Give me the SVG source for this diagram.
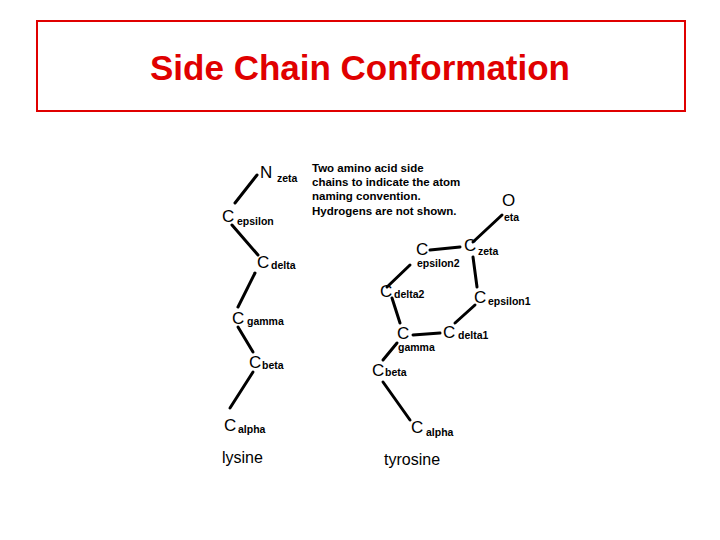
<svg xmlns="http://www.w3.org/2000/svg" width="720" height="540" viewBox="0 0 720 540">
<style>
.b{stroke:#000;stroke-width:3;stroke-linecap:round}
.a{font-family:"Liberation Sans",Arial,sans-serif;font-size:17px;fill:#000}
.s{font-family:"Liberation Sans",Arial,sans-serif;font-size:10.5px;font-weight:bold;fill:#000}
.n{font-family:"Liberation Sans",Arial,sans-serif;font-size:11.5px;font-weight:bold;fill:#000}
.l{font-family:"Liberation Sans",Arial,sans-serif;font-size:16px;fill:#000}
</style>
<rect width="720" height="540" fill="#fff"/>
<g id="title"><rect x="37" y="21" width="648" height="90" fill="none" stroke="#e00000" stroke-width="2"/>
<text x="360" y="80" text-anchor="middle" font-family="Liberation Sans,Arial,sans-serif" font-size="35" font-weight="bold" fill="#e00000">Side Chain Conformation</text></g>
<g id="connectors">
<line class="b" x1="257" y1="175" x2="235" y2="203"/>
<line class="b" x1="232" y1="225" x2="258" y2="255"/>
<line class="b" x1="255" y1="273" x2="238" y2="307"/>
<line class="b" x1="238" y1="327" x2="253" y2="352"/>
<line class="b" x1="253" y1="372" x2="230" y2="408"/>
<line class="b" x1="502" y1="215" x2="473" y2="242"/>
<line class="b" x1="430" y1="250" x2="460" y2="247"/>
<line class="b" x1="473" y1="257" x2="477" y2="287"/>
<line class="b" x1="410" y1="265" x2="387" y2="287"/>
<line class="b" x1="392" y1="298" x2="400" y2="323"/>
<line class="b" x1="413" y1="335" x2="440" y2="333"/>
<line class="b" x1="475" y1="305" x2="455" y2="323"/>
<line class="b" x1="397" y1="343" x2="383" y2="360"/>
<line class="b" x1="383" y1="382" x2="410" y2="420"/>
</g>
<g id="lys-nz"><text class="a" x="260" y="178">N</text><text class="s" x="277" y="182">zeta</text></g>
<g id="lys-ce"><text class="a" x="222" y="222">C</text><text class="s" x="237" y="225">epsilon</text></g>
<g id="lys-cd"><text class="a" x="257" y="268">C</text><text class="s" x="271" y="269">delta</text></g>
<g id="lys-cg"><text class="a" x="232" y="324">C</text><text class="s" x="247" y="325">gamma</text></g>
<g id="lys-cb"><text class="a" x="249" y="368">C</text><text class="s" x="262" y="369">beta</text></g>
<g id="lys-ca"><text class="a" x="224" y="431">C</text><text class="s" x="238" y="433">alpha</text></g>
<g id="lysine"><text class="l" x="222" y="463">lysine</text></g>
<g id="note"><text class="n" x="312" y="172">Two amino acid side</text><text class="n" x="312" y="186">chains to indicate the atom</text><text class="n" x="312" y="200">naming convention.</text><text class="n" x="312" y="215">Hydrogens are not shown.</text></g>
<g id="tyr-oh"><text class="a" x="502" y="206">O</text><text class="s" x="504" y="221">eta</text></g>
<g id="tyr-cz"><text class="a" x="464" y="251">C</text><text class="s" x="478" y="255">zeta</text></g>
<g id="tyr-ce2"><text class="a" x="416" y="255">C</text><text class="s" x="417" y="267">epsilon2</text></g>
<g id="tyr-ce1"><text class="a" x="474" y="303">C</text><text class="s" x="488" y="305">epsilon1</text></g>
<g id="tyr-cd2"><text class="a" x="380" y="297">C</text><text class="s" x="394" y="298">delta2</text></g>
<g id="tyr-cd1"><text class="a" x="443" y="338">C</text><text class="s" x="458" y="339">delta1</text></g>
<g id="tyr-cg"><text class="a" x="397" y="339">C</text><text class="s" x="398" y="351">gamma</text></g>
<g id="tyr-cb"><text class="a" x="372" y="376">C</text><text class="s" x="385" y="376">beta</text></g>
<g id="tyr-ca"><text class="a" x="411" y="433">C</text><text class="s" x="426" y="436">alpha</text></g>
<g id="tyrosine"><text class="l" x="384" y="465">tyrosine</text></g>
</svg>
